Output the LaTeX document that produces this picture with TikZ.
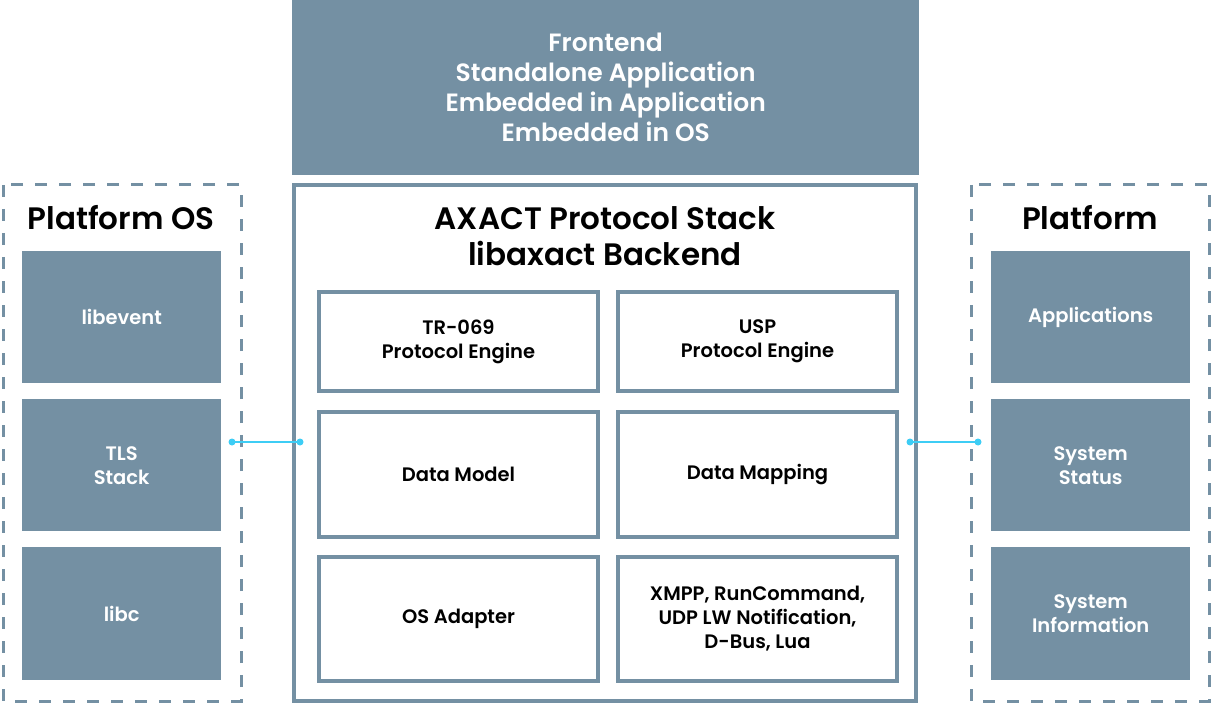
\documentclass[tikz,border=0pt]{standalone}
\usepackage{fontspec}
\setmainfont{Poppins}[UprightFont=* Medium, BoldFont=* SemiBold]
\definecolor{slate}{HTML}{7490A3}
\definecolor{cyanl}{HTML}{3DCDF5}
\begin{document}
\begin{tikzpicture}[x=1pt,y=-1pt,
  fillbox/.style={fill=slate,draw=none,text=white,align=center,font=\bfseries\fontsize{19.5}{24}\selectfont},
  inbox/.style={draw=slate,line width=4pt,fill=white,align=center,font=\bfseries\fontsize{19.5}{24}\selectfont},
  dashbox/.style={draw=slate,line width=3pt,dash pattern=on 12pt off 12pt},
  title/.style={font=\bfseries\fontsize{31}{36}\selectfont,align=center},
  link/.style={draw=cyanl,line width=2pt},
  dot/.style={circle,fill=cyanl,inner sep=0pt,minimum size=7pt}]
\useasboundingbox (0,0) rectangle (1212,703);
% frontend
\node[fillbox,minimum width=627pt,minimum height=175pt,anchor=north west,inner sep=0pt,font=\bfseries\fontsize{25}{30}\selectfont] (front) at (292,0) {Frontend\\Standalone Application\\Embedded in Application\\Embedded in OS};
% main box
\draw[draw=slate,line width=4pt] (294,185) rectangle (916,701);
\node[title,anchor=center] (stack) at (605,236) {AXACT Protocol Stack\\libaxact Backend};
% inner boxes
\newcommand{\ibox}[6]{\node[inbox,minimum width=#3pt,minimum height=#4pt,anchor=north west,inner sep=0pt] (#6) at (#1,#2) {#5};}
\ibox{317}{290}{279}{99}{TR-069\\Protocol Engine}{tr}
\ibox{616}{290}{279}{99}{USP\\Protocol Engine}{usp}
\ibox{317}{410}{279}{125}{Data Model}{dm}
\ibox{616}{410}{279}{125}{Data Mapping}{dmap}
\ibox{317}{555}{279}{124}{OS Adapter}{osa}
\ibox{616}{555}{279}{124}{XMPP, RunCommand,\\UDP LW Notification,\\D-Bus, Lua}{xmpp}
% left platform
\draw[dashbox] (3,185) rectangle (241,701);
\node[title] (pos) at (121,218) {Platform OS};
\node[fillbox,minimum width=199pt,minimum height=132pt,anchor=north west,inner sep=0pt] (lev) at (22,251) {libevent};
\node[fillbox,minimum width=199pt,minimum height=132pt,anchor=north west,inner sep=0pt] (tls) at (22,399) {TLS\\Stack};
\node[fillbox,minimum width=199pt,minimum height=133pt,anchor=north west,inner sep=0pt] (libc) at (22,547) {libc};
% right platform
\draw[dashbox] (971,185) rectangle (1209,701);
\node[title] (pl) at (1090,218) {Platform};
\node[fillbox,minimum width=199pt,minimum height=132pt,anchor=north west,inner sep=0pt] (app) at (991,251) {Applications};
\node[fillbox,minimum width=199pt,minimum height=132pt,anchor=north west,inner sep=0pt] (sst) at (991,399) {System\\Status};
\node[fillbox,minimum width=199pt,minimum height=133pt,anchor=north west,inner sep=0pt] (sinf) at (991,547) {System\\Information};
% links
\node[dot] (lpL) at (232,442) {};
\node[dot] (mainL) at (300,442) {};
\node[dot] (mainR) at (910,442) {};
\node[dot] (rpR) at (978,442) {};
\draw[link] (lpL.center) -- (mainL.center);
\draw[link] (mainR.center) -- (rpR.center);
\end{tikzpicture}
\end{document}
